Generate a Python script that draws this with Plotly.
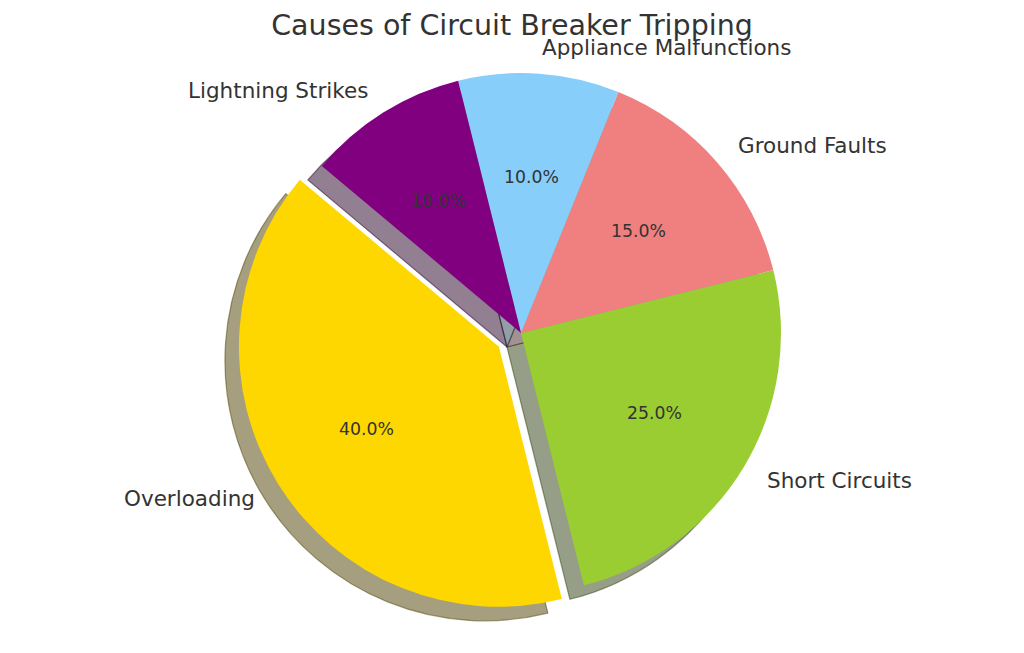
import math
import plotly.graph_objects as go

# ---- data ----
categories = ["Overloading", "Short Circuits", "Ground Faults", "Appliance Malfunctions", "Lightning Strikes"]
values = [40, 25, 15, 10, 10]
colors = ["#FFD700", "#9ACD32", "#F08080", "#87CEFA", "#800080"]
explode = [0.1, 0, 0, 0, 0]
title_text = "Causes of Circuit Breaker Tripping"

# ---- geometry (pixels, in screen coordinates) ----
W, H = 1024, 653
OFF = 8                    # page body margin: figure origin sits at (8, 8) on screen
CX, CY = 521, 333          # pie centre in px
R = 260                    # pie radius in px
START = 140                # start angle (deg, counter-clockwise from 3 o'clock)
SHADOW_DX, SHADOW_DY = -14, 14
TEXT_COLOR = "#333333"
FONT = "DejaVu Sans"

max_pull = max(explode)
half = R * (1 + max_pull)  # plotly shrinks radius by (1+maxPull)
total = sum(values)
# plotly (counterclockwise): first slice occupies clockwise angles [rot, rot+v]
ROT = 90 - START - 360 * values[0] / total


def px2x(px):
    return (px - OFF) / W


def px2y(py):
    return 1 - (py - OFF) / H


def dom(cx, cy):
    return dict(x=[px2x(cx - half), px2x(cx + half)],
                y=[px2y(cy + half), px2y(cy - half)])


def hex_to_rgb(h):
    h = h.lstrip("#")
    return tuple(int(h[i:i + 2], 16) for i in (0, 2, 4))


shadow_colors = []
for c in colors:
    r, g, b = hex_to_rgb(c)
    shadow_colors.append(f"rgba({0.3*r:.0f},{0.3*g:.0f},{0.3*b:.0f},0.5)")

fig = go.Figure()

# shadow pie
fig.add_trace(go.Pie(
    labels=categories, values=values, sort=False, direction="counterclockwise",
    rotation=ROT, pull=explode, textinfo="none", hoverinfo="skip",
    marker=dict(colors=shadow_colors, line=dict(color=shadow_colors, width=1.2)),
    domain=dom(CX + SHADOW_DX, CY + SHADOW_DY), showlegend=False,
))

# main pie
fig.add_trace(go.Pie(
    labels=categories, values=values, sort=False, direction="counterclockwise",
    rotation=ROT, pull=explode, textinfo="none",
    marker=dict(colors=colors, line=dict(width=0)),
    domain=dom(CX, CY), showlegend=False,
))

# labels and percentages (matplotlib-like placement)
annotations = []
theta1 = START
for lab, v, ex in zip(categories, values, explode):
    frac = v / total
    theta2 = theta1 + 360 * frac
    mid = math.radians((theta1 + theta2) / 2)
    cx = CX + ex * R * math.cos(mid)
    cy = CY - ex * R * math.sin(mid)
    # outside label
    lx = cx + 1.1 * R * math.cos(mid)
    ly = cy - 1.1 * R * math.sin(mid)
    annotations.append(dict(
        x=px2x(lx), y=px2y(ly), xref="paper", yref="paper", text=lab, showarrow=False,
        xanchor="left" if math.cos(mid) > 0 else "right", yanchor="middle", borderpad=0,
        font=dict(family=FONT, size=21.5, color=TEXT_COLOR)))
    # percentage
    px = cx + 0.6 * R * math.cos(mid)
    py = cy - 0.6 * R * math.sin(mid)
    annotations.append(dict(
        x=px2x(px), y=px2y(py), xref="paper", yref="paper", text=f"{100*frac:.1f}%",
        showarrow=False, xanchor="center", yanchor="middle", borderpad=0,
        font=dict(family=FONT, size=17.3, color=TEXT_COLOR)))
    theta1 = theta2

fig.update_layout(
    width=W, height=H,
    margin=dict(l=0, r=0, t=0, b=0),
    paper_bgcolor="white", plot_bgcolor="white",
    title=dict(text=title_text, x=px2x(512), xanchor="center", y=px2y(25), yanchor="middle",
               font=dict(family=FONT, size=28.5, color=TEXT_COLOR)),
    annotations=annotations,
)

fig.write_html("out.html")
